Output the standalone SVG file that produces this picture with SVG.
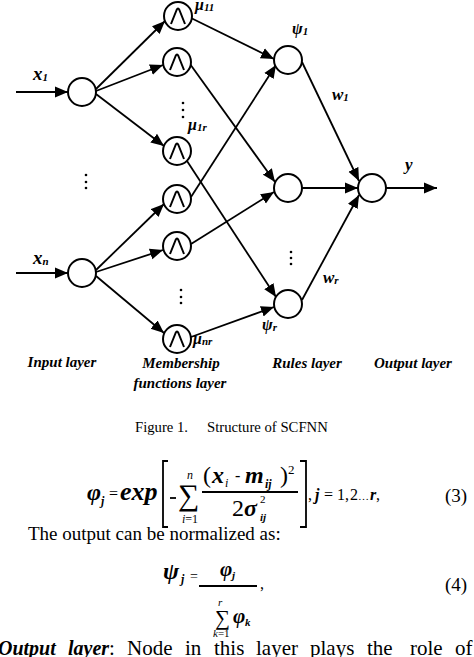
<svg xmlns="http://www.w3.org/2000/svg" width="474" height="657" viewBox="0 0 474 657">
<style>
.node{fill:#fff;stroke:#000;stroke-width:2}
.mf{fill:none;stroke:#000;stroke-width:2;stroke-linejoin:round}
.edge{fill:none;stroke:#000;stroke-width:1.8;marker-end:url(#arr)}
.plain{fill:none;stroke:#000;stroke-width:1.8}
.bi{font-family:"Liberation Serif","Times New Roman",serif;font-weight:bold;font-style:italic;fill:#000}
.rm{font-family:"Liberation Serif","Times New Roman",serif;fill:#000}
.it{font-family:"Liberation Serif","Times New Roman",serif;font-style:italic;fill:#000}
.dot{fill:#000}
</style>
<defs>
<marker id="arr" markerUnits="userSpaceOnUse" markerWidth="14" markerHeight="12" refX="13" refY="6" orient="auto"><path d="M0,0.5 L13,6 L0,11.5 z" fill="#000"/></marker>
<path id="lam" d="M-7,8 L-1.4,-6 Q0,-9 1.4,-6 L7,8"/>
</defs>
<g id="connectors">
<path class="edge" d="M16,92 L68,92"/>
<path class="edge" d="M16,273 L68,273"/>
<path class="edge" d="M96,89 L165,21"/>
<path class="edge" d="M96,91 L163,65"/>
<path class="edge" d="M96,94 L164,146"/>
<path class="edge" d="M96,270 L164,204"/>
<path class="edge" d="M96,272 L163,250"/>
<path class="edge" d="M96,276 L164,333"/>
<path class="edge" d="M191,18 L274,59"/>
<path class="edge" d="M190,64 L275,182"/>
<path class="edge" d="M187,161 L276,297"/>
<path class="edge" d="M191,197 L276,65"/>
<path class="edge" d="M191,244 L274,192"/>
<path class="edge" d="M191,337 L274,307"/>
<path class="edge" d="M302,62 L359,181"/>
<path class="edge" d="M302,188 L358,188"/>
<path class="edge" d="M302,300 L359,195"/>
<path class="edge" d="M386,188 L437,188"/>
</g>
<g id="input1"><circle class="node" cx="82" cy="92" r="14"/></g>
<g id="inputn"><circle class="node" cx="82" cy="273" r="14"/></g>
<g id="mf11"><circle class="node" cx="178" cy="16" r="14"/><use href="#lam" class="mf" x="178" y="16"/></g>
<g id="mf12"><circle class="node" cx="177" cy="62" r="14"/><use href="#lam" class="mf" x="177" y="62"/></g>
<g id="mf1r"><circle class="node" cx="177" cy="151" r="14"/><use href="#lam" class="mf" x="177" y="151"/></g>
<g id="mfn1"><circle class="node" cx="177" cy="199" r="14"/><use href="#lam" class="mf" x="177" y="199"/></g>
<g id="mfn2"><circle class="node" cx="177" cy="246" r="14"/><use href="#lam" class="mf" x="177" y="246"/></g>
<g id="mfnr"><circle class="node" cx="177" cy="339" r="14"/><use href="#lam" class="mf" x="177" y="339"/></g>
<g id="rule1"><circle class="node" cx="288" cy="60" r="14"/></g>
<g id="rule2"><circle class="node" cx="288" cy="188" r="14"/></g>
<g id="ruler"><circle class="node" cx="288" cy="304" r="14"/></g>
<g id="output"><circle class="node" cx="372" cy="188" r="14"/></g>
<g id="dots">
<circle class="dot" cx="183" cy="103" r="1.3"/><circle class="dot" cx="183" cy="110" r="1.3"/><circle class="dot" cx="183" cy="117" r="1.3"/>
<circle class="dot" cx="86" cy="175" r="1.3"/><circle class="dot" cx="86" cy="182" r="1.3"/><circle class="dot" cx="86" cy="188" r="1.3"/>
<circle class="dot" cx="181" cy="290" r="1.3"/><circle class="dot" cx="181" cy="297" r="1.3"/><circle class="dot" cx="181" cy="303" r="1.3"/>
<circle class="dot" cx="291" cy="252" r="1.3"/><circle class="dot" cx="291" cy="258" r="1.3"/><circle class="dot" cx="291" cy="264" r="1.3"/>
</g>
<g id="labels">
<text class="bi" x="33" y="80" font-size="19">x<tspan font-size="11" dy="1">1</tspan></text>
<text class="bi" x="33" y="264" font-size="19">x<tspan font-size="11" dy="1">n</tspan></text>
<text class="bi" x="195" y="10" font-size="16">μ<tspan font-size="11" dy="1">11</tspan></text>
<text class="bi" x="188" y="130" font-size="16">μ<tspan font-size="11" dy="1">1r</tspan></text>
<text class="bi" x="193" y="344" font-size="16">μ<tspan font-size="11" dy="1">nr</tspan></text>
<text class="bi" x="292" y="34" font-size="16">ψ<tspan font-size="11" dy="1">1</tspan></text>
<text class="bi" x="262" y="330" font-size="16">ψ<tspan font-size="11" dy="1">r</tspan></text>
<text class="bi" x="332" y="100" font-size="17">w<tspan font-size="11" dy="1">1</tspan></text>
<text class="bi" x="323" y="283" font-size="17">w<tspan font-size="11" dy="1">r</tspan></text>
<text class="bi" x="405" y="170" font-size="17">y</text>
<text class="bi" x="62" y="367" font-size="15" text-anchor="middle">Input layer</text>
<text class="bi" x="181" y="368" font-size="15" text-anchor="middle">Membership</text>
<text class="bi" x="180" y="388" font-size="15" text-anchor="middle">functions layer</text>
<text class="bi" x="307" y="368" font-size="15" text-anchor="middle">Rules layer</text>
<text class="bi" x="413" y="368" font-size="15" text-anchor="middle">Output layer</text>
</g>
<g id="caption">
<text class="rm" x="135" y="432" font-size="14.7">Figure 1.</text>
<text class="rm" x="207" y="432" font-size="14.7">Structure of SCFNN</text>
</g>
<g id="eq3">
<text class="bi" x="87" y="500" font-size="24">φ</text>
<text class="bi" x="101" y="505" font-size="12">j</text>
<text class="rm" x="109" y="499" font-size="16">=</text>
<text class="bi" x="120" y="500" font-size="26">exp</text>
<path class="plain" stroke-width="1.4" d="M168,461 H163 V527 H168"/>
<path class="plain" stroke-width="1.4" d="M170,498 H176"/>
<text class="rm" x="178" y="505" font-size="30">∑</text>
<text class="it" x="187" y="479" font-size="12">n</text>
<text class="rm" x="182" y="523" font-size="12"><tspan class="it">i</tspan>=1</text>
<text class="rm" x="203" y="483" font-size="24">(</text>
<text class="bi" x="212" y="483" font-size="24">x</text>
<text class="it" x="225" y="487" font-size="12">i</text>
<text class="rm" x="235" y="481" font-size="16">-</text>
<text class="bi" x="245" y="483" font-size="24">m</text>
<text class="bi" x="265" y="488" font-size="12">ij</text>
<text class="rm" x="280" y="483" font-size="24">)</text>
<text class="rm" x="288" y="474" font-size="13">2</text>
<path class="plain" stroke-width="1.5" d="M202,492 H298"/>
<text class="rm" x="232" y="516" font-size="24">2</text>
<text class="bi" x="244" y="516" font-size="24">σ</text>
<text class="rm" x="260" y="503" font-size="11">2</text>
<text class="bi" x="260" y="521" font-size="11">ij</text>
<path class="plain" stroke-width="1.4" d="M300,461 H306 V527 H300"/>
<text class="rm" y="500" font-size="16"><tspan x="308">,</tspan><tspan class="bi" x="315">j</tspan><tspan x="324">=</tspan><tspan x="337">1,</tspan><tspan x="350">2</tspan><tspan x="358" font-size="11">…</tspan><tspan class="bi" x="370">r</tspan><tspan x="376">,</tspan></text>
<text class="rm" x="445" y="502" font-size="19">(3)</text>
</g>
<text class="rm" x="28" y="540" font-size="19">The output can be normalized as:</text>
<g id="eq4">
<text class="bi" x="163" y="579" font-size="24">ψ</text>
<text class="bi" x="181" y="583" font-size="12">j</text>
<text class="rm" x="190" y="581" font-size="14">=</text>
<path class="plain" stroke-width="1.3" d="M199,586 H257"/>
<text class="bi" x="220" y="576" font-size="21">φ</text>
<text class="bi" x="232" y="579" font-size="11">j</text>
<text class="rm" x="260" y="589" font-size="16">,</text>
<text class="it" x="218" y="606" font-size="11">r</text>
<text class="rm" x="215" y="625" font-size="21">∑</text>
<text class="bi" x="233" y="623" font-size="21">φ</text>
<text class="bi" x="245" y="626" font-size="11">k</text>
<text class="rm" x="213" y="637" font-size="11"><tspan class="it">k</tspan>=1</text>
<text class="rm" x="445" y="591" font-size="19">(4)</text>
</g>
<text class="rm" y="655" font-size="21"><tspan class="bi" x="-2" font-size="20">Output</tspan><tspan class="bi" x="68" font-size="20">layer</tspan><tspan x="109">:</tspan><tspan x="127">Node</tspan><tspan x="185">in</tspan><tspan x="214">this</tspan><tspan x="256">layer</tspan><tspan x="310">plays</tspan><tspan x="367">the</tspan><tspan x="410">role</tspan><tspan x="455">of</tspan></text>
</svg>
